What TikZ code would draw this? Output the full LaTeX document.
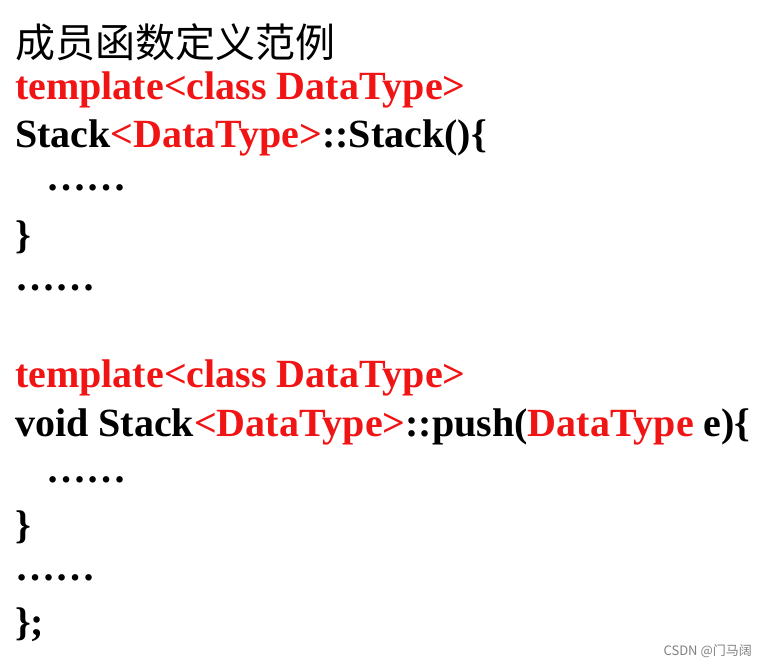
\documentclass[tikz,border=0pt]{standalone}
\usepackage{fontspec}
\setmainfont{Liberation Serif}
\newfontfamily\cjk{Noto Sans CJK SC}
\definecolor{kred}{RGB}{240,20,20}
\begin{document}
\begin{tikzpicture}[x=1pt,y=1pt,
  code/.style={anchor=west,inner sep=0pt,font=\fontsize{40}{40}\selectfont\bfseries}]
\useasboundingbox (0,0) rectangle (767,-667);
\node[anchor=west,inner sep=0pt,font=\cjk\fontsize{40}{40}\selectfont] (t) at (15,-42) {成员函数定义范例};
\node[code] (a1) at (15,-90) {\textcolor{kred}{template<class DataType>}};
\node[code] (a2) at (15,-138) {Stack\textcolor{kred}{<DataType>}::Stack()\{};
\node[code] (a3) at (46,-188) {……};
\node[code] (a4) at (15,-237) {\}};
\node[code] (a5) at (15,-288) {……};
\node[code] (b1) at (15,-378) {\textcolor{kred}{template<class DataType>}};
\node[code] (b2) at (15,-427) {void Stack\textcolor{kred}{<DataType>}::push(\textcolor{kred}{DataType}\ e)\{};
\node[code] (b3) at (46,-480) {……};
\node[code] (b4) at (15,-527) {\}};
\node[code] (b5) at (15,-578) {……};
\node[code] (b6) at (15,-625) {\};};
\node[anchor=east,inner sep=0pt,text=gray,font=\cjk\fontsize{13}{13}\selectfont] (w) at (752,-651) {CSDN @门马阔};
\end{tikzpicture}
\end{document}
